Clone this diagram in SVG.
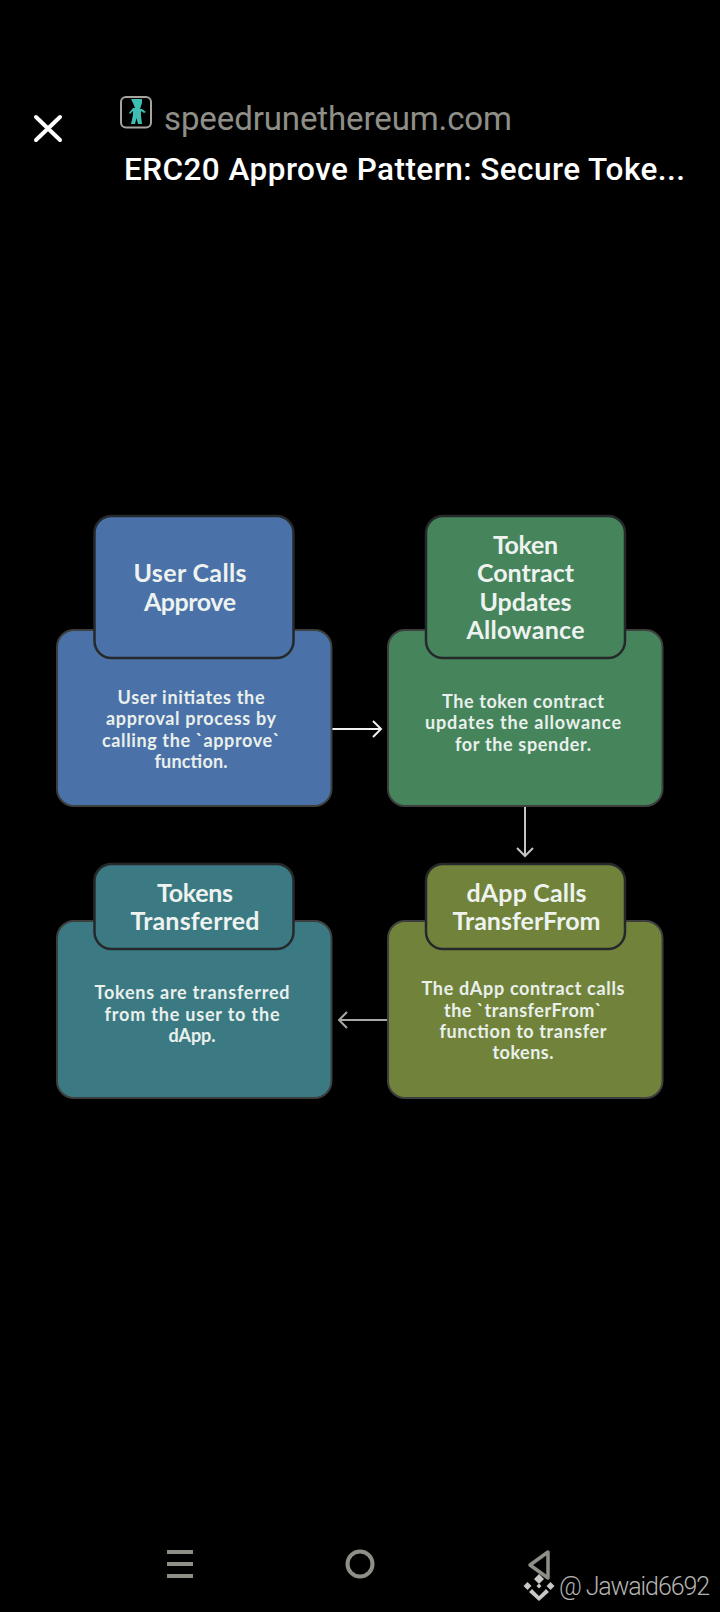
<svg xmlns="http://www.w3.org/2000/svg" width="720" height="1612" viewBox="0 0 720 1612">
<defs>
<marker id="ah1" markerUnits="userSpaceOnUse" markerWidth="12" markerHeight="20" refX="10" refY="10" orient="auto"><path d="M2 2 L10 10 L2 18" fill="none" stroke="#f2f2f2" stroke-width="2"/></marker>
<marker id="ah2" markerUnits="userSpaceOnUse" markerWidth="12" markerHeight="20" refX="10" refY="10" orient="auto"><path d="M2 2 L10 10 L2 18" fill="none" stroke="#c4c4c4" stroke-width="2"/></marker>
<marker id="ah3" markerUnits="userSpaceOnUse" markerWidth="12" markerHeight="20" refX="10" refY="10" orient="auto"><path d="M2 2 L10 10 L2 18" fill="none" stroke="#a8a8a4" stroke-width="2"/></marker>
</defs>
<style>
.box{stroke:#3c3f3e;stroke-width:2}
.head{stroke:#26292b;stroke-width:2.5}
.h{font-family:"Lato","Noto Sans",sans-serif;font-size:25px;font-weight:700;fill:#eef3f0;text-anchor:middle}
.b{font-family:"Lato","Noto Sans",sans-serif;font-size:18px;font-weight:700;fill:#eaf0ec;text-anchor:middle}
.gr{fill:#8f8f88}
</style>
<rect width="720" height="1612" fill="#000"/>
<g id="header">
<path d="M36 117 L60 140 M60 117 L36 140" stroke="#fff" stroke-width="4" stroke-linecap="round" fill="none"/>
<rect x="121" y="97" width="30" height="30.500" rx="5" fill="none" stroke="#a5a59e" stroke-width="2"/>
<path d="M131 99 H142 V103 L140 109 H142 L146 112 L144 113 L141 111 V116 L142 124 H138 L136.500 118 L135 124 H131 L133 115 V111 L130 114 L129 113 L133 108 L135 108 L133 103 Z" fill="#3fbfb4"/>
<text x="164" y="130" font-family="Roboto,sans-serif" font-size="33" fill="#8f8f88" textLength="348">speedrunethereum.com</text>
<text x="124" y="180" font-family="Roboto,sans-serif" font-size="31.500" font-weight="500" fill="#fff" textLength="561">ERC20 Approve Pattern: Secure Toke...</text>
</g>
<g id="connectors" fill="none" stroke-width="2">
<path d="M332 729 H381" stroke="#f2f2f2" marker-end="url(#ah1)"/>
<path d="M525 806 V856" stroke="#c4c4c4" marker-end="url(#ah2)"/>
<path d="M388 1020 H339" stroke="#a8a8a4" marker-end="url(#ah3)"/>
</g>
<g id="node-user-calls-approve">
<rect class="box" x="57" y="630" width="274.500" height="176" rx="17" fill="#4a72a8"/>
<rect class="head" x="94.500" y="516" width="199" height="142" rx="17" fill="#4a72a8"/>
<text class="h" x="190" y="582" textLength="113">User Calls</text>
<text class="h" x="190" y="611" textLength="92">Approve</text>
<text class="b" x="191" y="704" textLength="147">User initiates the</text>
<text class="b" x="191" y="725" textLength="170">approval process by</text>
<text class="b" x="191" y="747" textLength="178">calling the `approve`</text>
<text class="b" x="191" y="768" textLength="73">function.</text>
</g>
<g id="node-token-contract">
<rect class="box" x="388" y="630" width="274.500" height="176" rx="17" fill="#46845c"/>
<rect class="head" x="426" y="516" width="199" height="142" rx="17" fill="#46845c"/>
<text class="h" x="525.500" y="554" textLength="65">Token</text>
<text class="h" x="525.500" y="582" textLength="97">Contract</text>
<text class="h" x="525.500" y="611" textLength="92">Updates</text>
<text class="h" x="525.500" y="639" textLength="118">Allowance</text>
<text class="b" x="523" y="708" textLength="162">The token contract</text>
<text class="b" x="523" y="729" textLength="196">updates the allowance</text>
<text class="b" x="523" y="751" textLength="136">for the spender.</text>
</g>
<g id="node-dapp-calls">
<rect class="box" x="388" y="921" width="274.500" height="177" rx="17" fill="#71833b"/>
<rect class="head" x="426" y="864" width="199" height="85" rx="17" fill="#71833b"/>
<text class="h" x="526.500" y="902" textLength="120">dApp Calls</text>
<text class="h" x="526.500" y="930" textLength="148">TransferFrom</text>
<text class="b" x="523" y="995" textLength="203">The dApp contract calls</text>
<text class="b" x="523" y="1017" textLength="158">the `transferFrom`</text>
<text class="b" x="523" y="1038" textLength="167">function to transfer</text>
<text class="b" x="523" y="1059" textLength="61">tokens.</text>
</g>
<g id="node-tokens-transferred">
<rect class="box" x="57" y="921" width="274.500" height="177" rx="17" fill="#3b7a83"/>
<rect class="head" x="94.500" y="864" width="199" height="85" rx="17" fill="#3b7a83"/>
<text class="h" x="195" y="902" textLength="76">Tokens</text>
<text class="h" x="195" y="930" textLength="129">Transferred</text>
<text class="b" x="192" y="999" textLength="195">Tokens are transferred</text>
<text class="b" x="192" y="1021" textLength="175">from the user to the</text>
<text class="b" x="192" y="1042" textLength="47">dApp.</text>
</g>
<g id="footer">
<rect class="gr" x="167" y="1550" width="26" height="4"/>
<rect class="gr" x="167" y="1562" width="26" height="4"/>
<rect class="gr" x="167" y="1574" width="26" height="4"/>
<circle cx="360" cy="1564" r="12.500" fill="none" stroke="#8f8f88" stroke-width="4"/>
<path d="M548 1552 L530 1565 L548 1578 Z" fill="none" stroke="#8f8f88" stroke-width="3.500" stroke-linejoin="round"/>
<path d="M539 1574 L544 1579 L539 1584 L534 1579 Z M527.500 1582 L531.500 1586 L527.500 1590 L523.500 1586 Z M550.500 1582 L554.500 1586 L550.500 1590 L546.500 1586 Z M539 1583.500 L541.500 1586 L539 1588.500 L536.500 1586 Z M532 1589 L539 1596 L546 1589 L549 1592 L539 1601 L529 1592 Z" fill="#c8c8c4"/>
<text x="559" y="1595" font-family="Roboto,sans-serif" font-size="25" font-weight="300" fill="#b4b4b0" textLength="151">@ Jawaid6692</text>
</g>
</svg>
